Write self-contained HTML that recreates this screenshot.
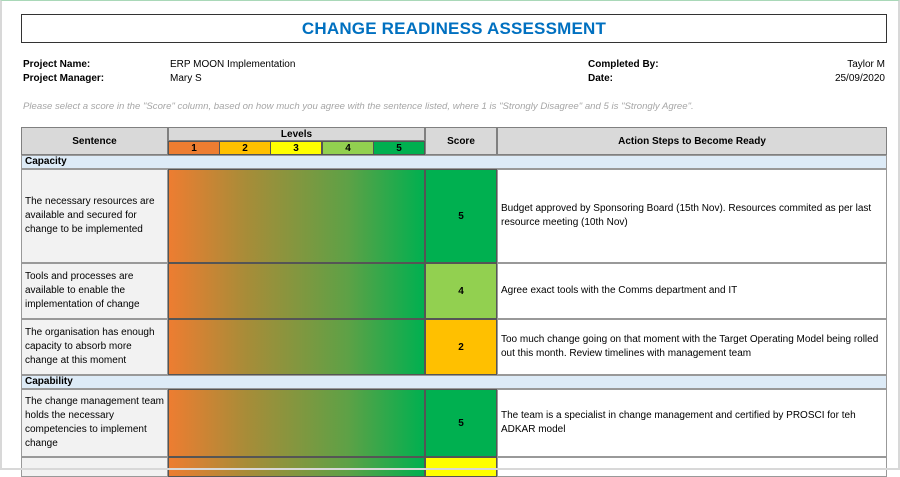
<!DOCTYPE html>
<html><head><meta charset="utf-8"><style>
*{margin:0;padding:0;box-sizing:border-box}
body{width:900px;height:470px;overflow:hidden;background:#fff;font-family:"Liberation Sans",Arial,sans-serif;font-size:10px;color:#000;position:relative}
.a{position:absolute}
.b{font-weight:bold}
.c{display:flex;align-items:center;justify-content:center;text-align:center}
.l{display:flex;align-items:center;padding-left:3px;line-height:14px}
.grad{background:linear-gradient(to right,#ed7d31,#a88c38 30%,#5ea146 70%,#00b050)}
</style></head><body>
<div class="a" style="left:0;top:0;width:900px;height:470px;border-left:2px solid #d8d8d8;border-right:2px solid #d8d8d8;border-top:1px solid #a9d8b8"></div>
<div class="a c" style="left:21px;top:14px;width:866px;height:29px;border:1px solid #333;color:#0070c0;font-size:17px;font-weight:bold;letter-spacing:0.2px">CHANGE READINESS ASSESSMENT</div>
<div class="a b" style="left:23px;top:59px">Project Name:</div>
<div class="a b" style="left:23px;top:73px">Project Manager:</div>
<div class="a" style="left:170px;top:59px">ERP MOON Implementation</div>
<div class="a" style="left:170px;top:73px">Mary S</div>
<div class="a b" style="left:588px;top:59px">Completed By:</div>
<div class="a b" style="left:588px;top:73px">Date:</div>
<div class="a" style="right:15px;top:59px">Taylor M</div>
<div class="a" style="right:15px;top:73px">25/09/2020</div>
<div class="a" style="left:23px;top:101px;color:#a6a6a6;font-style:italic;font-size:9.6px">Please select a score in the "Score" column, based on how much you agree with the sentence listed, where 1 is "Strongly Disagree" and 5 is "Strongly Agree".</div>

<div class="a c b" style="left:21px;top:127px;width:147px;height:28px;background:#d9d9d9;border:1px solid #808080">Sentence</div>
<div class="a c b" style="left:168px;top:127px;width:257px;height:14px;background:#d9d9d9;border:1px solid #808080">Levels</div>
<div class="a c b" style="left:168px;top:141px;width:52px;height:14px;background:#ed7d31;border:1px solid #555">1</div>
<div class="a c b" style="left:219px;top:141px;width:52px;height:14px;background:#ffc000;border:1px solid #555">2</div>
<div class="a c b" style="left:270px;top:141px;width:52px;height:14px;background:#ffff00;border:1px solid #555">3</div>
<div class="a c b" style="left:322px;top:141px;width:52px;height:14px;background:#92d050;border:1px solid #555">4</div>
<div class="a c b" style="left:373px;top:141px;width:52px;height:14px;background:#00b050;border:1px solid #555">5</div>
<div class="a c b" style="left:425px;top:127px;width:72px;height:28px;background:#d9d9d9;border:1px solid #808080">Score</div>
<div class="a c b" style="left:497px;top:127px;width:390px;height:28px;background:#d9d9d9;border:1px solid #808080">Action Steps to Become Ready</div>

<div class="a l b" style="left:21px;top:155px;width:866px;height:14px;background:#ddebf7;border:1px solid #999">Capacity</div>

<div class="a l" style="left:21px;top:169px;width:147px;height:94px;background:#f2f2f2;border:1px solid #999">The necessary resources are available and secured for change to be implemented</div>
<div class="a grad" style="left:168px;top:169px;width:257px;height:94px;border:1px solid #555"></div>
<div class="a c b" style="left:425px;top:169px;width:72px;height:94px;background:#00b050;border:1px solid #555">5</div>
<div class="a l" style="left:497px;top:169px;width:390px;height:94px;border:1px solid #999">Budget approved by Sponsoring Board (15th Nov). Resources commited as per last resource meeting (10th Nov)</div>

<div class="a l" style="left:21px;top:263px;width:147px;height:56px;background:#f2f2f2;border:1px solid #999">Tools and processes are available to enable the implementation of change</div>
<div class="a grad" style="left:168px;top:263px;width:257px;height:56px;border:1px solid #555"></div>
<div class="a c b" style="left:425px;top:263px;width:72px;height:56px;background:#92d050;border:1px solid #555">4</div>
<div class="a l" style="left:497px;top:263px;width:390px;height:56px;border:1px solid #999">Agree exact tools with the Comms department and IT</div>

<div class="a l" style="left:21px;top:319px;width:147px;height:56px;background:#f2f2f2;border:1px solid #999">The organisation has enough capacity to absorb more change at this moment</div>
<div class="a grad" style="left:168px;top:319px;width:257px;height:56px;border:1px solid #555"></div>
<div class="a c b" style="left:425px;top:319px;width:72px;height:56px;background:#ffc000;border:1px solid #555">2</div>
<div class="a l" style="left:497px;top:319px;width:390px;height:56px;border:1px solid #999">Too much change going on that moment with the Target Operating Model being rolled out this month. Review timelines with management team</div>

<div class="a l b" style="left:21px;top:375px;width:866px;height:14px;background:#ddebf7;border:1px solid #999">Capability</div>

<div class="a l" style="left:21px;top:389px;width:147px;height:68px;background:#f2f2f2;border:1px solid #999">The change management team holds the necessary competencies to implement change</div>
<div class="a grad" style="left:168px;top:389px;width:257px;height:68px;border:1px solid #555"></div>
<div class="a c b" style="left:425px;top:389px;width:72px;height:68px;background:#00b050;border:1px solid #555">5</div>
<div class="a l" style="left:497px;top:389px;width:390px;height:68px;border:1px solid #999">The team is a specialist in change management and certified by PROSCI for teh ADKAR model</div>

<div class="a" style="left:21px;top:457px;width:147px;height:20px;background:#f2f2f2;border:1px solid #999"></div>
<div class="a grad" style="left:168px;top:457px;width:257px;height:20px;border:1px solid #555"></div>
<div class="a" style="left:425px;top:457px;width:72px;height:20px;background:#ffff00;border:1px solid #555"></div>
<div class="a" style="left:497px;top:457px;width:390px;height:20px;border:1px solid #999"></div>
<div class="a" style="left:0;top:468px;width:900px;height:2px;background:#d8d8d8"></div>
</body></html>
